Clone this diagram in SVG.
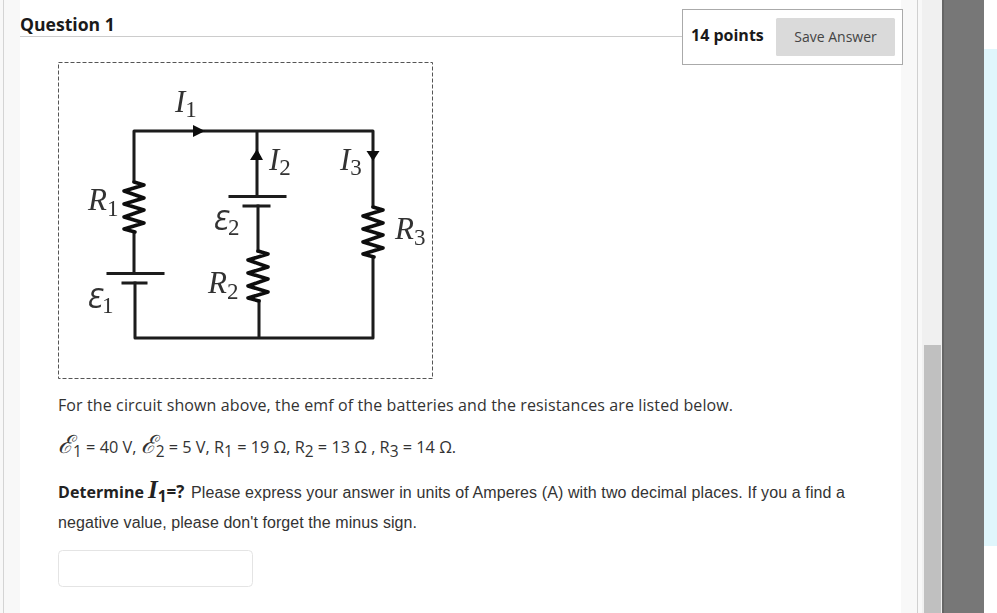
<svg xmlns="http://www.w3.org/2000/svg" width="997" height="613" viewBox="0 0 997 613">
<style>
.os{font-family:"Open Sans","Liberation Sans",sans-serif}
.ar{font-family:"Liberation Sans",Arial,sans-serif}
.m{font-family:"Liberation Serif","DejaVu Serif",serif;font-style:italic;font-size:31px;fill:#333}
.e{font-family:"DejaVu Sans",sans-serif;font-style:italic;font-size:26px;fill:#333}
.s{font-family:"Liberation Serif",serif;font-style:normal;font-size:23px}
.w{fill:none;stroke:#1c1c1c;stroke-width:3;stroke-linejoin:round;stroke-linecap:square}
.z{fill:none;stroke:#111;stroke-width:3.600;stroke-linejoin:round;stroke-linecap:round}
.b{font-size:16px;fill:#333}
.sub{font-size:15.500px}
.se{font-family:"Liberation Serif",serif;font-style:italic;font-size:25px}
</style>
<defs>
<filter id="soft" x="-5%" y="-5%" width="110%" height="110%"><feGaussianBlur stdDeviation="0.350"/></filter>
<path id="res" d="M0 0L10 3-10 9 10 16-10 22 10 28-10 35 10 41-10 47 1 50" class="z"/>
</defs>
<g id="page">
<rect width="997" height="613" fill="#fff"/>
<rect x="0" width="20" height="613" fill="#f8f8f8"/>
<rect x="3" width="1" height="613" fill="#d4d4d4"/>
<rect x="901" width="21" height="613" fill="#f8f8f8"/>
<rect x="917" width="1" height="613" fill="#d0d0d0"/>
<rect x="922" width="20" height="613" fill="#f0f0f0"/>
<rect x="924" y="345" width="17" height="268" fill="#c0c0c0"/>
<rect x="942" width="2" height="613" fill="#666"/>
<rect x="944" width="40" height="613" fill="#777"/>
<rect x="984" y="49" width="13" height="497" fill="#e0f6fc"/>
</g>
<g id="header">
<line x1="20" y1="36.500" x2="683" y2="36.500" stroke="#ccc"/>
<text x="20" y="31" class="os" font-size="17.600" font-weight="700" fill="#1a1a1a">Question 1</text>
<rect x="682.500" y="9.500" width="220" height="55" fill="#fff" stroke="#aaa"/>
<text x="691" y="41" class="os" font-size="16" font-weight="700" fill="#1a1a1a">14 points</text>
<rect x="776" y="18" width="119" height="38" rx="1.500" fill="#dadada"/>
<text x="835.500" y="42" text-anchor="middle" class="os" font-size="14" fill="#444">Save Answer</text>
</g>
<rect id="figure-frame" x="58.500" y="62.500" width="374" height="316" fill="none" stroke="#555" stroke-dasharray="4 2"/>
<g filter="url(#soft)">
<g id="connectors">
<path class="w" d="M134 181V131H373V206M373 258V338H135V283M134 273V233M257 131V196M258 206V251M259 301V338"/>
<path fill="#111" d="M193 125L205 131 193 137Z"/>
<path fill="#111" d="M257 149L250 160 263 160Z M366.500 151H379.500L373 161Z"/>
</g>
<g id="R1"><use href="#res" x="134" y="182"/><text x="88" y="210" class="m">R<tspan class="s" dy="6">1</tspan></text></g>
<g id="R2"><use href="#res" x="258" y="251"/><text x="208" y="293" class="m">R<tspan class="s" dy="6">2</tspan></text></g>
<g id="R3"><use href="#res" x="373" y="207"/><text x="395" y="239" class="m">R<tspan class="s" dy="6">3</tspan></text></g>
<g id="E1"><path class="w" d="M108 273.500H163M123 283H146"/><text x="86" y="308" class="e">Ɛ<tspan class="s" dy="5">1</tspan></text></g>
<g id="E2"><path class="w" d="M230 196.500H285M244 206H269"/><text x="212" y="230" class="e">Ɛ<tspan class="s" dy="5">2</tspan></text></g>
<g id="I1"><text x="175" y="112" class="m">I<tspan class="s" dy="5">1</tspan></text></g>
<g id="I2"><text x="269" y="170" class="m">I<tspan class="s" dy="5">2</tspan></text></g>
<g id="I3"><text x="340" y="170" class="m">I<tspan class="s" dy="5">3</tspan></text></g>
</g>
<g id="question-text">
<text x="58" y="411" class="os b" textLength="675">For the circuit shown above, the emf of the batteries and the resistances are listed below.</text>
<text x="58" y="453" class="os b" style="font-size:16.300px"><tspan class="se">ℰ</tspan><tspan class="sub" dy="4">1</tspan><tspan dy="-4"> = 40 V, </tspan><tspan class="se">ℰ</tspan><tspan class="sub" dy="4">2</tspan><tspan dy="-4"> = 5 V, R</tspan><tspan class="sub" dy="4">1</tspan><tspan dy="-4"> = 19 Ω, R</tspan><tspan class="sub" dy="4">2</tspan><tspan dy="-4"> = 13 Ω , R</tspan><tspan class="sub" dy="4">3</tspan><tspan dy="-4"> = 14 Ω.</tspan></text>
<text x="58" y="498" class="os" font-size="16" font-weight="700" fill="#222" textLength="86">Determine</text>
<text x="148" y="498" class="os" font-size="17" font-weight="700" fill="#222"><tspan font-family="Liberation Serif,serif" font-style="italic" font-size="25">I</tspan><tspan class="sub" dy="4">1</tspan><tspan dy="-4">=?</tspan></text>
<text x="191" y="498" class="ar" font-size="16" fill="#333" textLength="654">Please express your answer in units of Amperes (A) with two decimal places. If you a find a</text>
<text x="58" y="528" class="ar" font-size="16" fill="#333" textLength="359">negative value, please don't forget the minus sign.</text>
</g>
<rect id="answer-input" x="58.500" y="550.500" width="194" height="36" rx="4" fill="#fff" stroke="#e4e4e4"/>
</svg>
